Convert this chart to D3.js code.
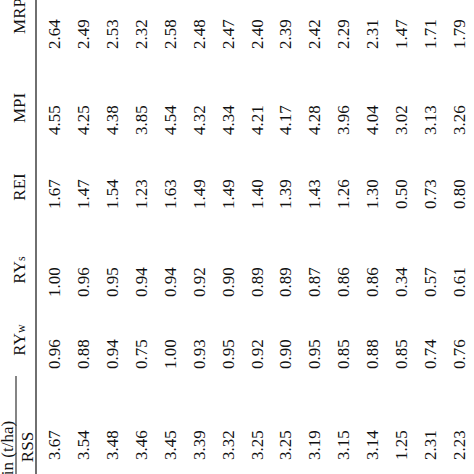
<!DOCTYPE html>
<html><head><meta charset="utf-8">
<script src="https://cdn.jsdelivr.net/npm/d3@7"></script>
<style>body{margin:0;background:#fff}</style>
</head><body><div id="table"></div>
<script>
// table columns (the picture is rotated 90 degrees)
const RSS = [3.67, 3.54, 3.48, 3.46, 3.45, 3.39, 3.32, 3.25, 3.25, 3.19, 3.15, 3.14, 1.25, 2.31, 2.23];
const RYw = [0.96, 0.88, 0.94, 0.75, 1.00, 0.93, 0.95, 0.92, 0.90, 0.95, 0.85, 0.88, 0.85, 0.74, 0.76];
const RYs = [1.00, 0.96, 0.95, 0.94, 0.94, 0.92, 0.90, 0.89, 0.89, 0.87, 0.86, 0.86, 0.34, 0.57, 0.61];
const REI = [1.67, 1.47, 1.54, 1.23, 1.63, 1.49, 1.49, 1.40, 1.39, 1.43, 1.26, 1.30, 0.50, 0.73, 0.80];
const MPI = [4.55, 4.25, 4.38, 3.85, 4.54, 4.32, 4.34, 4.21, 4.17, 4.28, 3.96, 4.04, 3.02, 3.13, 3.26];
const MRP = [2.64, 2.49, 2.53, 2.32, 2.58, 2.48, 2.47, 2.40, 2.39, 2.42, 2.29, 2.31, 1.47, 1.71, 1.79];

const columns = [
  { name: 'MRP', values: MRP, y: 34, hy: 16 },
  { name: 'MPI', values: MPI, y: 120, hy: 108 },
  { name: 'REI', values: REI, y: 194, hy: 187 },
  { name: 'RY', sub: 's', values: RYs, y: 282, hy: 270 },
  { name: 'RY', sub: 'w', values: RYw, y: 354, hy: 340 },
  { name: 'RSS', values: RSS, y: 445, hy: 447 }
];

const W = 474, H = 474;
const svg = d3.select('#table').append('svg').attr('width', W).attr('height', H)
  .style('font-family', '"Liberation Serif", serif').style('font-size', '17px')
  .attr('fill', '#111');

const x = d3.scalePoint().domain(d3.range(RSS.length)).range([54, 459]);

// separator lines
svg.append('line').attr('x1', 36).attr('x2', 36).attr('y1', 0).attr('y2', H)
  .attr('stroke', '#333').attr('stroke-width', 1.4);
svg.append('line').attr('x1', 16).attr('x2', 16).attr('y1', 376).attr('y2', H)
  .attr('stroke', '#333').attr('stroke-width', 1.2);

columns.forEach(c => {
  svg.append('g').selectAll('text').data(c.values).enter().append('text')
    .attr('transform', (d, i) => `translate(${x(i) + 6},${c.y}) rotate(-90)`)
    .attr('text-anchor', 'middle')
    .text(d => d.toFixed(2));
  const hx = c.name === 'RSS' ? 33 : 25;
  const t = svg.append('text')
    .attr('transform', `translate(${hx},${c.hy}) rotate(-90)`)
    .attr('text-anchor', 'middle')
    .text(c.name);
  if (c.sub) t.append('tspan').attr('font-size', '12px').text(c.sub);
});

svg.append('text').attr('transform', 'translate(13,448) rotate(-90)')
  .attr('text-anchor', 'middle').text('in (t/ha)');
</script></body></html>
